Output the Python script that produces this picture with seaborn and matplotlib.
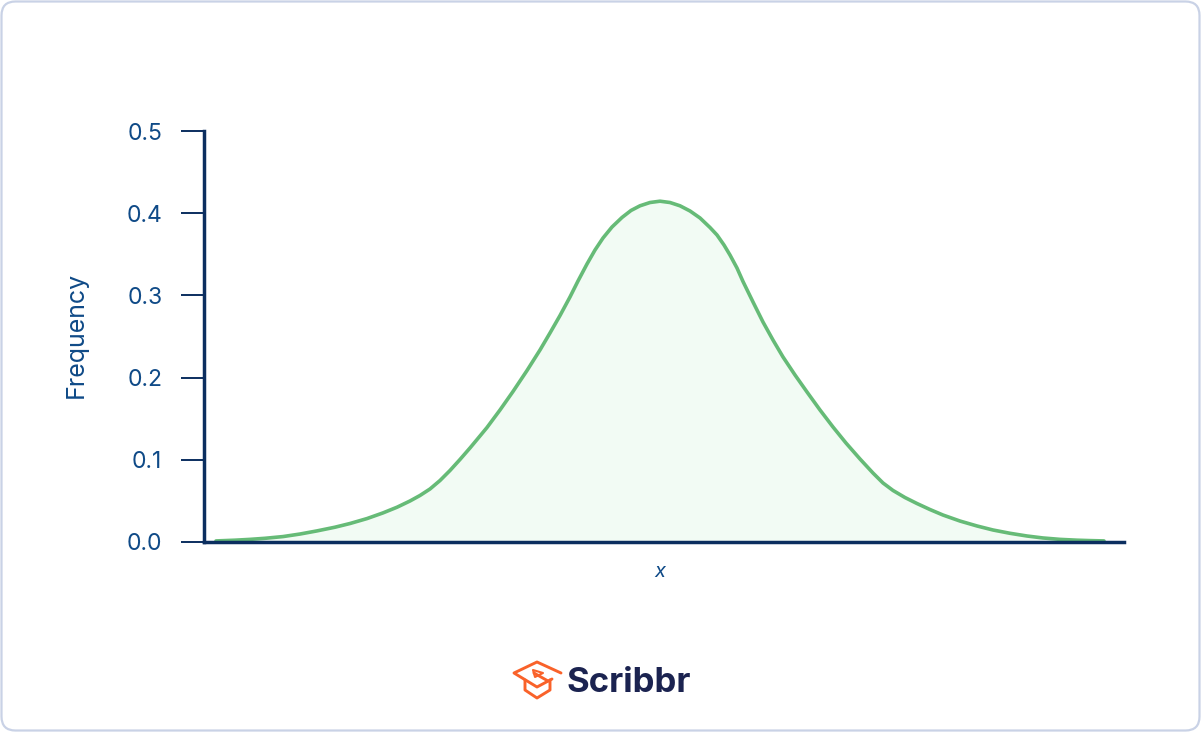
import seaborn as sns
import matplotlib.pyplot as plt
import pandas as pd
from matplotlib.lines import Line2D
from matplotlib.patches import FancyBboxPatch, Polygon

# curve
x_vals = [-4.44, -4.25, -4.10, -3.95, -3.77, -3.60, -3.43, -3.25, -3.10, -2.93,
          -2.77, -2.63, -2.50, -2.40, -2.30, -2.20, -2.10, -2.00, -1.90, -1.80,
          -1.73, -1.60, -1.47, -1.33, -1.20, -1.10, -1.00, -0.90, -0.82, -0.73,
          -0.65, -0.57, -0.48, -0.38, -0.29, -0.20, -0.10, 0.00,
          0.10, 0.20, 0.30, 0.40, 0.50, 0.57, 0.64, 0.70, 0.77, 0.83,
          0.93, 1.03, 1.13, 1.23, 1.35, 1.47, 1.60, 1.73, 1.86, 2.00,
          2.13, 2.23, 2.33, 2.45, 2.57, 2.70, 2.83, 3.00, 3.17, 3.33,
          3.50, 3.67, 3.83, 4.00, 4.17, 4.30, 4.44]
freq = [0.0013, 0.0022, 0.0032, 0.0045, 0.0066, 0.0097, 0.0135, 0.0180, 0.0225, 0.0285,
        0.0354, 0.0423, 0.0499, 0.0566, 0.0645, 0.0748, 0.0870, 0.1004, 0.1144, 0.1290,
        0.1393, 0.1606, 0.1831, 0.2086, 0.2336, 0.2543, 0.2755, 0.2981, 0.3175, 0.3382,
        0.3552, 0.3698, 0.3832, 0.3948, 0.4033, 0.4090, 0.4130, 0.4146,
        0.4130, 0.4090, 0.4027, 0.3942, 0.3826, 0.3735, 0.3613, 0.3491, 0.3333, 0.3169,
        0.2920, 0.2676, 0.2457, 0.2251, 0.2032, 0.1825, 0.1606, 0.1399, 0.1204, 0.1010,
        0.0839, 0.0718, 0.0627, 0.0541, 0.0468, 0.0395, 0.0328, 0.0255, 0.0195, 0.0146,
        0.0106, 0.0073, 0.0049, 0.0032, 0.0022, 0.0017, 0.0013]
y_ticks = [0.0, 0.1, 0.2, 0.3, 0.4, 0.5]
y_labels = ["0.0", "0.1", "0.2", "0.3", "0.4", "0.5"]

W, H = 1201, 732
NAVY = "#0B2E5F"
TEXT = "#0F4A87"
GREEN = "#66BB77"
FILL = "#F2FBF4"
ORANGE = "#F9622A"

sns.set_theme(style="white")
plt.rcParams["font.family"] = ["Inter", "DejaVu Sans"]

data = pd.DataFrame({"x": x_vals, "freq": freq})

fig = plt.figure(figsize=(W / 100, H / 100), dpi=100, facecolor="white")
ax = fig.add_axes([204 / W, 1 - 542 / H, (1124 - 204) / W, (542 - 131) / H])
ax.patch.set_alpha(0)

ax.fill_between(x_vals, freq, 0, color=FILL, lw=0)
sns.lineplot(data=data, x="x", y="freq", color=GREEN, linewidth=2.6, ax=ax, zorder=3)
ax.lines[0].set_solid_joinstyle("round")

ax.set_xlim(-4.56, 4.64)
ax.set_ylim(0, 0.5)
ax.set_xticks([])
ax.set_yticks(y_ticks)
ax.set_yticklabels(y_labels)
ax.tick_params(axis="y", length=16.5, width=1.4, color=NAVY, labelcolor=TEXT,
               labelsize=16.5, pad=13.5, left=True)

for s in ["top", "right"]:
    ax.spines[s].set_visible(False)
for s in ["left", "bottom"]:
    ax.spines[s].set_color(NAVY)
    ax.spines[s].set_linewidth(2.5)
    ax.spines[s].set_zorder(4)

ax.set_xlabel("")
ax.set_ylabel("")
fig.text(660 / W, 1 - 572 / H, "x", style="italic", color=TEXT, fontsize=14.5,
         ha="center", va="center")
fig.text(76 / W, 1 - 335 / H, "Frequency", rotation=90, color=TEXT, fontsize=18,
         ha="center", va="center")

# card border
border = FancyBboxPatch((1.5, 1.5), W - 3, H - 3, boxstyle="round,pad=0,rounding_size=14",
                        transform=None, fc="none", ec="#C9D2E6", lw=1.6)
fig.add_artist(border)


# logo, pixel positions measured from the top left of the picture
def px(points):
    return [(a, H - b) for a, b in points]


def logo_line(points):
    xs, ys = zip(*px(points))
    fig.add_artist(Line2D(xs, ys, transform=None, color=ORANGE, lw=2.1,
                          solid_joinstyle="round", solid_capstyle="round"))


logo_line([(561, 673), (537, 662), (514, 673), (537, 687), (552, 679)])
logo_line([(525, 680), (525, 690), (537, 698), (550, 690), (550, 680)])
logo_line([(548, 681), (534, 673)])
fig.add_artist(Polygon(px([(533, 670), (543, 673), (535, 677)]), closed=True, transform=None,
                       fc="none", ec=ORANGE, lw=1.5, joinstyle="round"))
fig.text(566 / W, 1 - 692 / H, "Scribbr", color="#1B2350", fontsize=25, fontweight="bold",
         ha="left", va="baseline")

fig.savefig("out.png", dpi=100)
